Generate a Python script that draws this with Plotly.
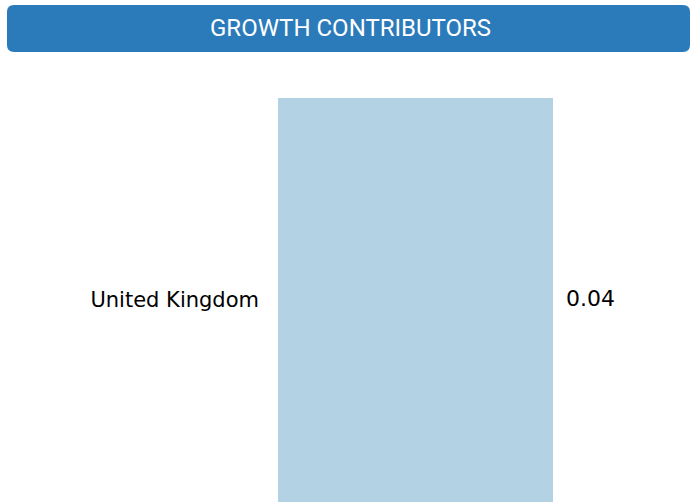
import plotly.graph_objects as go

# Data
categories = ["United Kingdom"]
values = [0.04]
title_text = "GROWTH CONTRIBUTORS"

W, H = 691, 502
M_L, M_R, M_T, M_B = 278, 0, 98, 0
PW, PH = W - M_L - M_R, H - M_T - M_B

HEADER_BLUE = "#2b7bba"
BAR_BLUE = "#b3d3e5"


def px(x, y):
    """Convert page pixels to paper coordinates of the plot area."""
    return (x - M_L) / PW, (H - M_B - y) / PH


def rounded_rect(x0, y0, x1, y1, r):
    pts = []
    a = px(x0 + r, y0); pts.append(f"M {a[0]},{a[1]}")
    b = px(x1 - r, y0); pts.append(f"L {b[0]},{b[1]}")
    c = px(x1, y0); d = px(x1, y0 + r); pts.append(f"Q {c[0]},{c[1]} {d[0]},{d[1]}")
    e = px(x1, y1 - r); pts.append(f"L {e[0]},{e[1]}")
    f = px(x1, y1); g = px(x1 - r, y1); pts.append(f"Q {f[0]},{f[1]} {g[0]},{g[1]}")
    h = px(x0 + r, y1); pts.append(f"L {h[0]},{h[1]}")
    i = px(x0, y1); j = px(x0, y1 - r); pts.append(f"Q {i[0]},{i[1]} {j[0]},{j[1]}")
    k = px(x0, y0 + r); pts.append(f"L {k[0]},{k[1]}")
    l = px(x0, y0); pts.append(f"Q {l[0]},{l[1]} {a[0]},{a[1]} Z")
    return " ".join(pts)


fig = go.Figure(
    go.Bar(
        x=values,
        y=categories,
        orientation="h",
        width=1,
        marker=dict(color=BAR_BLUE, line=dict(width=0)),
        hoverinfo="skip",
    )
)

# value labels to the right of each bar
for cat, v in zip(categories, values):
    fig.add_annotation(
        x=v, y=cat, xref="x", yref="y",
        text=f"{v:.2f}", showarrow=False,
        xanchor="left", xshift=11, yshift=2,
        font=dict(family="DejaVu Sans", size=22, color="#000000"),
    )

# header band
fig.add_shape(
    type="path", xref="paper", yref="paper",
    path=rounded_rect(7, 5, 690, 52, 7),
    fillcolor=HEADER_BLUE, line=dict(width=0), layer="above",
)
tx, ty = px(350, 28.5)
fig.add_annotation(
    x=tx, y=ty, xref="paper", yref="paper",
    text=title_text, showarrow=False,
    xanchor="center", yanchor="middle",
    font=dict(family="Roboto", size=24, color="#ffffff"),
)

fig.update_layout(
    width=W, height=H,
    margin=dict(l=M_L, r=M_R, t=M_T, b=M_B, pad=0),
    paper_bgcolor="#ffffff",
    plot_bgcolor="#ffffff",
    showlegend=False,
    bargap=0,
    xaxis=dict(range=[0, 0.06], visible=False, fixedrange=True),
    yaxis=dict(
        range=[-0.5, 0.5],
        showgrid=False, zeroline=False, showline=False, ticks="",
        ticklabelstandoff=18,
        tickfont=dict(family="DejaVu Sans", size=21, color="#000000"),
        fixedrange=True,
    ),
)

fig.write_html("out.html", config=dict(displayModeBar=False))
